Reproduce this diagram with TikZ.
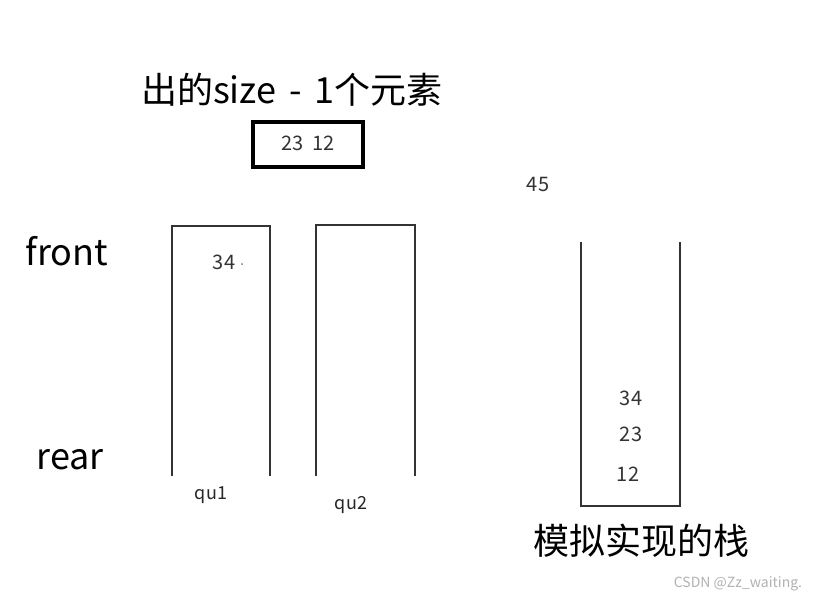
\documentclass[tikz,border=0pt]{standalone}
\usepackage{fontspec}
\setmainfont{Noto Sans CJK SC}
\begin{document}
\begin{tikzpicture}[x=1pt,y=-1pt,
  wall/.style={draw=black!80,line width=1.5pt},
  num/.style={font=\fontsize{20}{22}\selectfont,text=black!80,inner sep=0pt},
  big/.style={font=\fontsize{36}{40}\selectfont,inner sep=0pt},
  small/.style={font=\fontsize{18}{20}\selectfont,text=black!85,inner sep=0pt}]
\useasboundingbox[fill=white] (0,0) rectangle (813,600);
% title and box
\node[big] (title) at (292,90) {出的size\hspace{13pt}-\hspace{13pt}1个元素};
\node[draw,line width=4pt,minimum width=110pt,minimum height=45pt,inner sep=0pt] (box) at (307.5,144) {};
\node[num] (b1) at (308,143) {23\hspace{8pt}12};
\node[num] (n45) at (538,184) {45};
% labels
\node[big] (front) at (67,251) {front};
\node[big] (rear) at (70,460) {rear};
% queue 1
\coordinate (q1a) at (172,476);
\coordinate (q1b) at (172,226);
\coordinate (q1c) at (270,226);
\coordinate (q1d) at (270,476);
\draw[wall] (q1a) -- (q1b) -- (q1c) -- (q1d);
\node[num] (n34a) at (224,262) {34};
\node[fill=black!60,circle,inner sep=0.7pt] (dot) at (242,264) {};
\node[small] (qu1) at (211,495) {qu1};
% queue 2
\coordinate (q2a) at (316,476);
\coordinate (q2b) at (316,225);
\coordinate (q2c) at (415,225);
\coordinate (q2d) at (415,476);
\draw[wall] (q2a) -- (q2b) -- (q2c) -- (q2d);
\node[small] (qu2) at (351,505) {qu2};
% stack
\coordinate (s1) at (581,242);
\coordinate (s2) at (581,506);
\coordinate (s3) at (680,506);
\coordinate (s4) at (680,242);
\draw[wall] (s1) -- (s2) -- (s3) -- (s4);
\node[num] (s34) at (631,398) {34};
\node[num] (s23) at (631,434) {23};
\node[num] (s12) at (628,474) {12};
\node[big] (stk) at (641,541) {模拟实现的栈};
% watermark
\node[font=\fontsize{14}{16}\selectfont,text=black!30,inner sep=0pt] (wm) at (738,584) {CSDN @Zz\_waiting.};
\end{tikzpicture}
\end{document}
